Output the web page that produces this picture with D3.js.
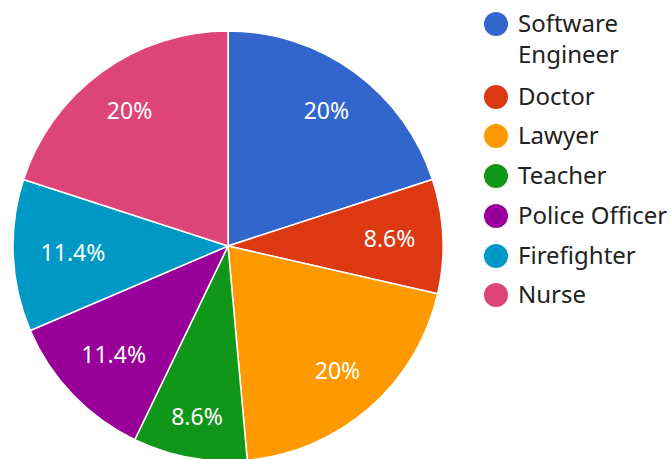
<!DOCTYPE html>
<html>
<head>
<meta charset="utf-8">
<style>
  body { margin: 0; background: #fff; }
  text { font-family: "Noto Sans", sans-serif; }
</style>
</head>
<body>
<svg width="672" height="459"></svg>
<script src="https://cdn.jsdelivr.net/npm/d3@7"></script>
<script>

var categories = ["Software Engineer", "Doctor", "Lawyer", "Teacher", "Police Officer", "Firefighter", "Nurse"];
var values = [7, 3, 7, 3, 4, 4, 7];
var colors = ["#3366cc", "#dc3912", "#ff9900", "#109618", "#990099", "#0099c6", "#dd4477"];
var legendLines = [["Software", "Engineer"], ["Doctor"], ["Lawyer"], ["Teacher"], ["Police Officer"], ["Firefighter"], ["Nurse"]];

var svg = d3.select("svg"),
    cx = 228, cy = 246, radius = 215,
    g = svg.append("g").attr("transform", "translate(" + cx + "," + cy + ")");

var data = categories.map(function(c, i) { return {name: c, value: values[i], color: colors[i]}; });
var total = d3.sum(values);

var pie = d3.pie()
    .sort(null)
    .value(function(d) { return d.value; });

var arc = d3.arc()
    .innerRadius(0)
    .outerRadius(radius);

var fmt = function(v) {
  var p = Math.round(v / total * 1000) / 10;
  return p + "%";
};

var arcs = pie(data);

g.selectAll("path")
    .data(arcs)
  .enter().append("path")
    .attr("d", arc)
    .attr("fill", function(d) { return d.data.color; })
    .attr("stroke", "#fff")
    .attr("stroke-width", 1.5);

// labels: push out along the mid angle until the text box's outer corner hits labelR
var labelR = 188, labelSize = 23;

g.selectAll("text.lbl")
    .data(arcs)
  .enter().append("text")
    .attr("class", "lbl")
    .attr("text-anchor", "middle")
    .attr("dy", "0.35em")
    .attr("fill", "#fff")
    .style("font-size", labelSize + "px")
    .text(function(d) { return fmt(d.data.value); })
    .attr("transform", function(d) {
      var a = (d.startAngle + d.endAngle) / 2,
          ux = Math.sin(a), uy = -Math.cos(a),
          hw = this.getComputedTextLength() / 2,
          hh = labelSize * 0.36,
          sx = ux < 0 ? -hw : hw,
          sy = uy < 0 ? -hh : hh,
          dot = ux * sx + uy * sy,
          t = -dot + Math.sqrt(dot * dot - (sx * sx + sy * sy) + labelR * labelR);
      return "translate(" + (t * ux) + "," + (t * uy) + ")";
    });

// legend
var legendY = [24, 97, 136, 176, 216, 256, 295];

var legend = svg.append("g");

var item = legend.selectAll("g")
    .data(data)
  .enter().append("g")
    .attr("transform", function(d, i) { return "translate(496," + legendY[i] + ")"; });

item.append("circle")
    .attr("r", 12)
    .attr("fill", function(d) { return d.color; });

item.append("text")
    .attr("x", 22)
    .attr("fill", "#222")
    .style("font-size", "24px")
    .selectAll("tspan")
    .data(function(d, i) { return legendLines[i]; })
  .enter().append("tspan")
    .attr("x", 22)
    .attr("dy", function(d, i) { return i === 0 ? "0.35em" : "31"; })
    .text(function(d) { return d; });

</script>
</body>
</html>
